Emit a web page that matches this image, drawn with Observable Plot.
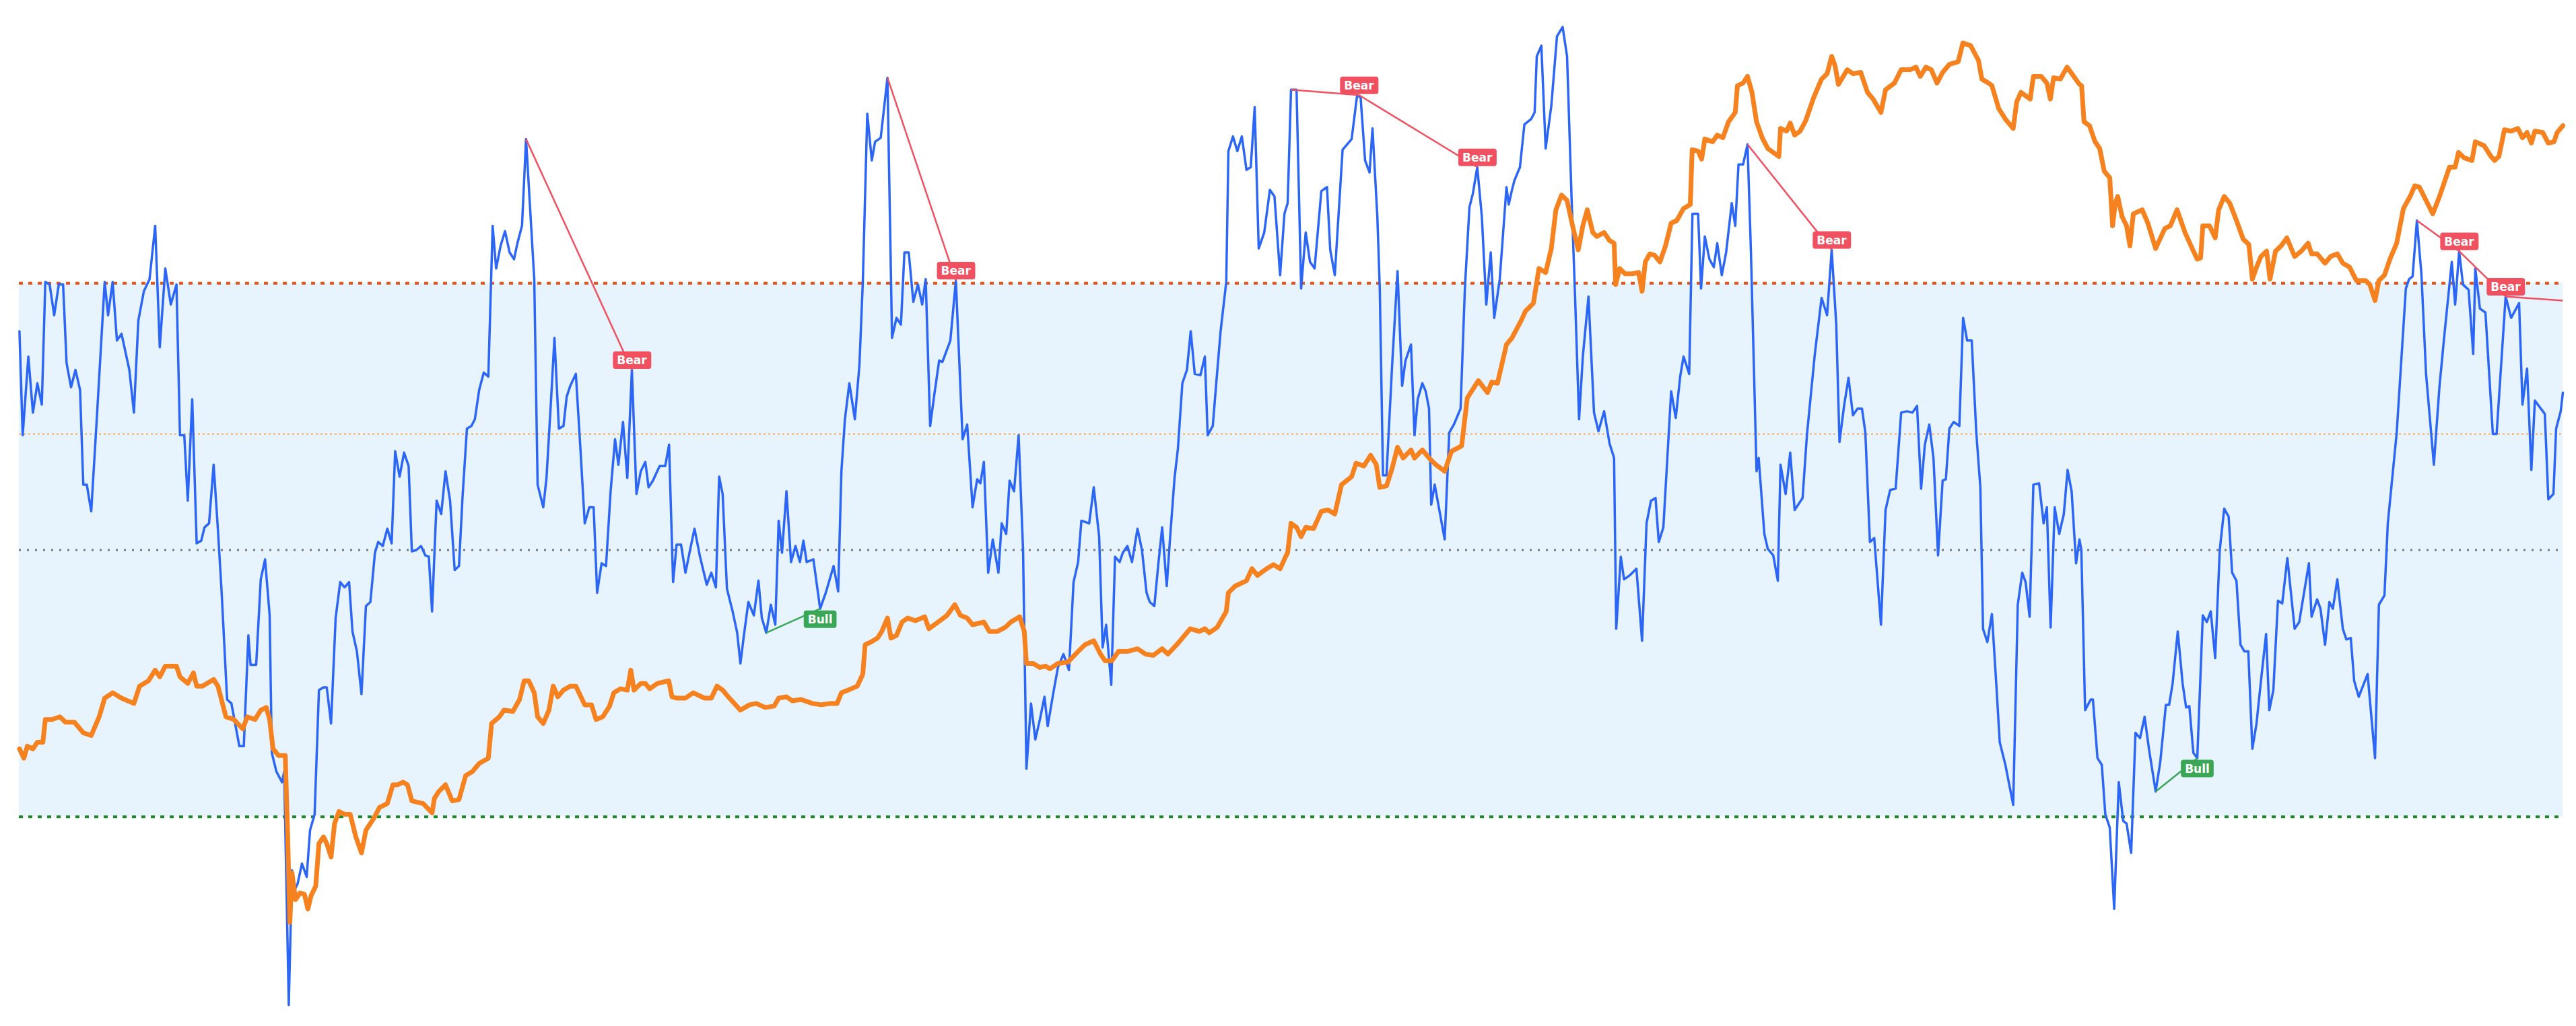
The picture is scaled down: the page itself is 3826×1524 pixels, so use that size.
<!DOCTYPE html>
<html><head><meta charset="utf-8">
<script src="https://cdn.jsdelivr.net/npm/d3@7"></script>
<script src="https://cdn.jsdelivr.net/npm/@observablehq/plot@0.6"></script>
<style>html,body{margin:0;padding:0;background:#fff;} #chart svg{display:block;}</style>
</head><body><div id="chart"></div>
<script>
// RSI oscillator: [bar, value]
const rsi = [[0.1,66.4],[1.3,58.6],[3.4,64.5],[5.1,60.3],[6.75,62.5],[8.4,60.9],[9.7,70.1],[11.3,69.9],[13,67.6],[14.7,69.9],[16.3,69.9],[17.6,64],[19.25,62.2],[20.9,63.5],[22.6,62],[23.8,54.9],[25.1,54.9],[26.75,52.9],[28.8,59.8],[31.75,70.1],[33,67.6],[34.7,70.1],[36.3,65.7],[38,66.2],[40.9,63.5],[42.6,60.3],[44.25,67.2],[46.3,69.4],[48.4,70.3],[50.5,74.3],[52.2,65.2],[54.25,71.1],[56.3,68.4],[58.4,69.9],[59.7,58.6],[61.3,58.6],[62.6,53.7],[64.25,61.3],[65.9,50.5],[67.6,50.7],[68.8,51.7],[70.5,52],[72.2,56.4],[73.8,51.5],[75.1,47.1],[77.2,38.8],[78.8,38.5],[81.75,35.3],[83.4,35.3],[85.1,43.6],[85.9,41.4],[88,41.4],[89.7,47.8],[91.3,49.3],[93,45.1],[93.8,34.8],[95.5,33.4],[97.6,32.6],[98.4,33.4],[100.1,15.9],[101.3,26],[102.2,24.5],[103.4,25],[105,26.5],[106.75,25.5],[108,29],[109.7,30.2],[111.3,39.5],[113,39.7],
[114.2,39.7],[115.8,37],[117.5,44.9],[119.2,47.6],[120.8,47.2],[122.5,47.6],[123.75,43.9],[125.4,42.4],[127.1,39.2],[128.75,45.8],[130.4,46.1],[132.1,49.8],[133.3,50.6],[135,50.3],[136.7,51.6],[138.3,50.5],[139.6,57.4],[141.25,55.5],[142.9,57.3],[144.6,56.3],[145.8,49.9],[147.5,50],[149.2,50.3],[150.8,49.6],[152.1,49.5],[153.3,45.4],[155,53.7],[156.7,52.7],[158.3,55.9],[160,53.7],[161.7,48.5],[163.3,48.8],[164.6,53.9],[166.25,59.1],[167.9,59.3],[169.2,59.8],[170.8,62],[172.5,63.3],[174.2,63],[175.8,74.3],[177.1,71.1],[178.75,72.8],[180.4,73.9],[182.1,72.3],[183.75,71.8],[185,73],[186.7,74.3],[188.2,80.8],[189.6,76],[191.25,70.3],[192.5,54.9],[194.6,53.2],[195.8,55.4],[197.5,61.3],[198.75,65.9],[200.4,59.1],[202.1,59.3],[203.3,61.5],[204.6,62.3],[206.7,63.2],[208.3,57.9],[210,52],[211.7,53.2],[213.3,53.2],[214.6,46.8],[216.25,49],[217.9,48.8],[219.6,54.4],[221.25,58.3],[222.5,56.4],[224.2,59.6],[225.8,55.4],[227.5,63.5],[229.2,54.2],[230.8,55.9],[232.5,56.6],
[233.7,54.7],[235.3,55.2],[237.8,56.3],[239.9,56.3],[241.3,57.9],[242.8,47.6],[244.1,50.4],[245.75,50.4],[247.4,48.3],[249.1,50],[250.75,51.6],[252.8,49.5],[255.3,47.4],[257,48.3],[258.7,47.2],[259.9,55.5],[261.2,54.2],[262.8,47.1],[264.9,45.4],[266.6,43.8],[267.8,41.5],[269.1,43.6],[270.75,46.1],[272.8,45.1],[274.5,47.7],[275.75,44.9],[277.4,43.8],[279.1,45.9],[280.75,44.4],[282,52.2],[283.25,49.8],[284.9,54.4],[286.6,49.1],[288.25,50.3],[289.9,49.1],[291.2,50.7],[292.4,49.1],[294.9,49.3],[297.4,45.6],[299.5,46.8],[302.4,48.8],[304.1,46.9],[305.3,55.9],[306.6,59.8],[308.25,62.5],[310.3,59.8],[312,63.9],[313.25,70.1],[314.9,82.7],[316.6,79.2],[317.8,80.6],[319.9,80.9],[322.4,85.4],[324.1,65.9],[325.75,67.4],[327.4,66.9],[328.7,72.3],[330.3,72.3],[332,68.6],[333.7,69.9],[335.3,68.4],[336.6,70.3],[338.25,59.3],[339.9,61.8],[341.6,64.2],[342.8,64.1],[345.75,65.7],[347.8,70.2],[350.3,58.3],
[352,59.4],[354,53.2],[355.7,55.3],[356.9,55],[358.2,56.6],[359.8,48.3],[361.5,50.8],[363.6,48.3],[364.8,52],[366.5,51.2],[367.75,55.2],[369.4,54.4],[371.1,58.6],[372.75,50],[374,33.6],[375.7,38.5],[377.3,35.8],[379,37.3],[380.7,39],[381.9,36.8],[384,39.3],[385.7,41.2],[387.75,42.2],[389.8,41],[391.5,47.6],[393.2,49.1],[394.4,52.2],[397.3,52],[399,54.7],[401,51],[402.3,42.7],[403.6,44.4],[405.5,39.9],[406.9,49.5],[408.6,49.1],[409.8,49.8],[411.5,50.3],[413.2,49.1],[415.25,51.6],[416.9,50],[418.6,46.8],[419.8,46.1],[421.5,45.8],[423,49],[424.4,51.7],[426.1,47.3],[427.3,50.8],[429,55.4],[430.25,57.6],[431.9,62.5],[433.6,63.5],[435,66.4],[436.5,63.2],[438.6,63.1],[440.25,64.5],[441.3,58.6],[443.2,59.3],[444.4,62.3],[446.1,66.4],[448.2,70.1],[449,79.9],[450.7,81],[452.3,79.9],[454,81],[455.7,78.5],[457.3,78.7],[458.75,83.2],[460.25,72.6],[462.3,73.8],[464.4,77],[466.1,76.5],[468.2,70.6],[469.8,75.2],[471,76],
[472.25,84.5],[474.3,84.5],[476,69.6],[477.7,73.8],[479.3,71.6],[481,71.1],[483.5,76.9],[485.6,77.2],[486.8,72.5],[488.5,70.6],[491.4,80],[494.75,80.8],[496.8,84.1],[498.1,83.9],[499.75,79.2],[501.4,78.3],[502.5,81.6],[504.3,75],[505.2,69.6],[506.4,55.6],[507.7,55.6],[509.75,63.7],[511.8,70.9],[513.5,62.3],[514.75,64.2],[516.8,65.4],[518.1,58.6],[519.3,61.3],[521,62.5],[522.25,61.9],[523.5,60.6],[524.3,53.4],[525.6,54.9],[529.3,50.8],[531,58.8],[532.7,59.4],[535.2,60.6],[536.8,69.6],[538.5,75.7],[539.75,76.7],[541.4,78.7],[543.1,75],[544.75,68.4],[546.4,72.3],[547.7,67.4],[549.75,70.3],[552.25,77.2],[553.1,75.9],[554.3,77],[555.2,77.7],[557.25,78.7],[558.9,81.9],[561.4,82.3],[562.7,82.8],[563.5,87],[565.2,87.8],[566.8,80.1],[568.9,83.3],[571,88.5],[573.1,89.2],[574.75,87],[576.4,76.5],[577.7,69.1],[579.2,59.8],[580.6,64.5],[582.7,69],[584.75,60.3],[586.4,58.9],[588.5,60.4],[590.5,58],
[592.2,56.9],[593,44.1],[594.7,49.5],[595.9,47.8],[598,48.1],[600.5,48.6],[602.6,43.2],[604.25,52],[605.9,53.7],[607.6,53.9],[608.8,50.6],[610.5,51.7],[613.4,61.9],[615.1,59.9],[616.75,63],[618,64.5],[620.1,63.2],[621.3,75.2],[623.4,75.2],[624.5,69.6],[625.9,73.5],[627.6,71.8],[629.25,71.2],[630.5,73],[632.2,70.6],[633.8,72.3],[635.9,76],[637.2,74.3],[638.4,78.9],[640.1,78.9],[641.75,80.4],[643,72.5],[645.1,55.9],[645.9,56.9],[648,51.2],[649.25,50.1],[651.3,49.6],[653,47.7],[654,56.4],[655.9,54.2],[657.6,57.3],[659.25,53],[662.2,53.9],[663.8,58.6],[666.75,64.7],[669.25,68.9],[671.3,67.6],[673,72.5],[674.7,66.9],[675.9,58.1],[677.6,60.8],[679.25,62.9],[680.9,60.1],[682.6,60.6],[684.25,60.6],[685.5,58.8],[687.2,50.6],[688.8,50.9],[691.3,44.4],[693,53],[694.7,54.5],[696.75,54.6],[698.8,60.3],[700.9,60.4],[703,60.3],[704.7,60.8],[706.2,54.6],[707.6,57.9],[709.25,59.4],[710.8,56.9],
[712.5,49.6],[714.2,55.2],[715.4,55.3],[716.7,59.1],[718.3,59.6],[720.4,59.3],[721.8,67.4],[723.3,65.7],[725,65.7],[726.7,58.8],[728.2,54.7],[729.2,44.1],[730.8,43.1],[732.5,45.2],[734.2,39.7],[735.4,35.6],[737.5,33.9],[740.4,30.9],[742.1,45.9],[743.75,48.3],[745,47.6],[746.5,45],[747.9,54.9],[750,55],[751.7,52],[752.9,53.2],[754.3,44.2],[755.8,53.2],[757.5,51.2],[759.2,52.7],[760.6,56],[762.1,54.4],[763.75,49],[765,50.8],[765.7,50],[767.1,38],[769.2,38.8],[770,38.8],[771.7,34.4],[773.3,33.9],[774.6,30.2],[776.25,29.2],[777.9,23.1],[779.6,32.6],[781.25,29.7],[782.5,29.5],[784.2,27.3],[785.8,36.3],[787.5,35.9],[789.2,37.5],[790.8,35.1],[793.3,31.9],[795,34.1],[797.1,38.4],[798.3,38.4],[799.6,40],[801.5,43.9],[803.3,40],[804.6,38.2],[805.8,38.3],[807.3,34.8],[808.75,34.4],[810.8,45.1],[812.3,44.6],[813.75,45.4],[815.4,41.9],[817.1,50],[818.75,53.1],[820.4,52.5],[821.7,48.3],[823.3,47.7],[824.8,42.9],[826.25,42.4],[827.7,42.4],[829.2,35.1],
[830.75,37],[832.4,40.2],[834.3,43.7],[835.5,38],[837,39.5],[838.7,46.2],[840.3,46],[842.2,49.4],[844.9,44.1],[846.6,44.6],[850.2,49],[851.2,45],[853.25,46.3],[854.5,45.6],[856.2,42.9],[857.8,46.1],[859.1,45.6],[860.75,47.8],[862.8,44.1],[864.1,43.3],[865.75,43.4],[867,40.2],[868.7,39],[872,40.7],[874.75,34.4],[876.2,45.9],[878.25,46.6],[879.5,52],[882.8,58.8],[886.2,69.6],[887.4,70.3],[888.7,70.5],[890.3,74.7],[892,70.6],[893.7,63.2],[896.6,56.4],[898.7,62.3],[900.3,65.7],[903.25,71.6],[904.5,68.4],[906,72.4],[907.4,69.9],[909.5,69.5],[911.2,64.7],[912,71.1],[913.7,68.1],[915.75,67.8],[918.5,58.7],[919.9,58.7],[923.25,69],[925.3,67.4],[928.25,68.5],[929.5,60.9],[931.2,63.6],[932.8,56],[934.1,61.2],[937.8,60.2],[939.1,53.8],[941,54.2],[942,59.1],[943.7,60.4],[944.5,61.8]];

// Price overlay, expressed on the oscillator's vertical scale: [bar, level]
const price = [[0.1,35.1],[1.75,34.4],[3,35.3],[5.1,35.1],[6.75,35.6],[8.8,35.6],[9.7,37.3],[12.2,37.3],[15.1,37.5],[17.2,37.1],[20.5,37.1],[23.8,36.3],[26.75,36.1],[29.7,37.5],[31.75,38.9],[34.7,39.3],[38,38.9],[42.6,38.5],[44.7,39.8],[48,40.2],[50.5,41],[52.2,40.5],[54.25,41.3],[58.4,41.3],[59.7,40.5],[62.6,40],[64.7,40.8],[65.9,39.8],[68,39.8],[72.2,40.3],[73.8,39.8],[76.75,37.5],[79.7,37.3],[83,36.6],[84.7,37.5],[87.6,37.3],[89.7,38],[91.75,38.2],[93,37.3],[94.25,35.1],[96.3,34.6],[98.8,34.6],[99.7,28.5],[100.5,22.1],[101.3,25.8],[102.6,23.8],[104.25,24.3],[105.9,24.2],[107.2,23.1],[108.4,24.1],[110.1,24.8],[111.3,28],[113,28.5],
[114.2,28],[115.8,27],[117.1,29.5],[118.75,30.4],[120.8,30.2],[122.9,30.2],[125,28.5],[127.1,27.3],[128.75,29],[131.7,29.9],[133.75,30.7],[136.7,31],[138.75,32.4],[140.4,32.4],[142.5,32.6],[144.2,32.4],[145.8,31.2],[150,31],[153.3,30.3],[154.2,31.4],[155.8,31.9],[158.3,32.4],[160.8,31.2],[163.3,31.3],[165.8,33.1],[168.3,33.4],[170.8,34],[174.2,34.4],[175.4,37],[178.3,37.5],[180,38],[183.3,37.9],[185.8,38.8],[187.5,40.2],[189.2,40.2],[191.25,39.3],[192.5,37.5],[194.6,37],[196.7,38],[198.3,39.8],[200,39],[202.1,39.5],[204.6,39.8],[206.7,39.8],[210,38.4],[212.5,38.4],[214.2,37.3],[216.7,37.5],[219.2,38.3],[220.8,39.3],[223.3,39.6],[225.8,39.5],[227.1,41],[228.3,39.5],[230.8,40],[232.5,40],
[234.1,39.6],[237,40],[241.2,40.2],[242.4,39],[244.1,38.9],[247.4,38.9],[250.3,39.3],[254.5,38.9],[257,38.9],[259.1,39.8],[261.2,39.5],[263.7,38.9],[267.8,38],[271.2,38.4],[273.7,38.5],[277,38.2],[280.3,38.3],[282,38.9],[284.9,39],[287,38.7],[290.3,38.8],[294.5,38.5],[297.8,38.4],[301.2,38.5],[303.7,38.5],[305.3,39.3],[307.8,39.5],[311.2,39.8],[313.25,40.7],[314.1,42.9],[316.2,43.1],[318.7,43.4],[320.3,43.9],[322.4,44.9],[323.7,43.4],[325.75,43.6],[327.8,44.6],[329.9,44.9],[332.8,44.7],[336.2,45],[337.8,44.1],[341.2,44.6],[344.5,45.1],[347.4,45.9],[349.5,45.1],[352,44.9],
[354,44.4],[358.2,44.6],[360.25,43.9],[363.2,43.9],[366.1,44.2],[368.2,44.6],[371.5,45],[373.2,43.9],[374,41.5],[376.5,41.5],[379,41.2],[381.1,41.3],[382.75,41.1],[385.7,41.5],[389.4,41.6],[393.2,42.4],[395.7,42.9],[399,43.2],[401.5,42.2],[403.2,41.7],[405.7,41.7],[408.2,42.4],[411.5,42.4],[415.25,42.6],[418.2,42.2],[421.1,42.1],[424.4,42.6],[426.5,42.2],[429.8,42.9],[434.8,44.1],[438.2,43.9],[440.25,44.1],[441.9,43.8],[444.8,44.2],[448.2,45.4],[449,46.8],[451.5,47.3],[455.7,47.7],[457.75,48.6],[459.8,48.1],[463.2,48.6],[465.7,48.9],[468.2,48.6],[470.25,49.5],[471,49.8],
[472.25,52],[474.3,51.7],[476,51],[477.7,51.7],[480.6,51.6],[483.5,52.9],[486,53],[488.5,52.7],[491,54.9],[494.75,55.5],[496.4,56.5],[499.3,56.3],[501.8,57.1],[503.9,56.4],[505.2,54.7],[507.7,54.8],[509.75,56.1],[511.8,57.7],[513.9,56.9],[516.8,57.5],[518.1,56.9],[521,57.5],[523.5,56.9],[526,56.4],[529.3,55.9],[531.8,57.4],[535.6,57.8],[537.7,61.4],[541.8,62.7],[545.2,61.8],[546.8,62.6],[548.9,62.5],[552.25,65.4],[554.3,65.9],[557.7,67.2],[559.3,67.9],[562.25,68.5],[564.3,71.1],[566.8,70.8],[568.9,72.6],[570.6,75.5],[572.7,76.6],[574.75,76.2],[576.8,74.3],[578.9,72.5],[580.6,74.3],[582.25,75.5],[584.3,73.8],[585.8,73.5],[588.5,73.8],[590.5,73.2],
[592.2,73],[592.8,69.9],[594.25,71.1],[596.3,70.7],[598.8,70.7],[601.3,70.8],[602.6,69.4],[603.8,71.6],[605.5,72.2],[607.2,72.1],[609.25,71.6],[611.3,72.8],[613.4,74.5],[615.5,74.7],[618,75.6],[620.5,75.9],[621.2,80],[623.4,79.9],[624.7,79.3],[625.9,80.8],[628.8,80.6],[630.5,81.1],[632.6,80.9],[634.7,82.1],[637.2,82.8],[638,84.8],[640.1,85],[641.75,85.5],[643.4,84.3],[645.1,82.1],[647.2,80.9],[649.25,80.1],[651.3,79.8],[653.4,79.5],[654,81.6],[656.3,81.4],[657.6,82],[659.25,81.1],[661.3,81.4],[663.4,82.2],[666.3,83.9],[669.25,85.3],[671.3,85.7],[673,87],[674.25,86.3],[675.5,84.9],[678.8,86],[680.9,85.7],[683.8,85.8],[686.3,84.3],[688.4,83.8],[691.3,82.8],[693,84.5],[696.3,85],[698.8,86],[702.2,86],[704.25,86.2],[705.9,85.5],[708,86.2],[710,86],
[712.1,85],[714.2,85.8],[716.7,86.4],[720,86.6],[721.7,88],[724.6,87.8],[727.5,86.7],[728.75,85.3],[731.25,85],[732.5,84.8],[735,83.1],[737.5,82.3],[740.4,81.6],[741.7,83.6],[743.3,84.3],[746.7,83.8],[747.9,85.5],[750.8,85.5],[752.9,85],[754.2,83.8],[755.4,85.4],[757.9,85.3],[760.4,86.2],[762.9,85.5],[765,84.9],[765.8,84.8],[766.7,82.1],[768.75,81.8],[770.8,80.6],[772.5,80.1],[774.2,78.4],[776.25,77.9],[777.3,74.3],[778.3,76],[779.2,76.5],[780.8,75],[782.5,74.3],[783.75,72.8],[785,75.2],[788.3,75.5],[790.4,74.5],[793.3,72.6],[796.7,74.1],[798.75,74.3],[801.25,75.5],[804.2,73.8],[807.1,72.5],[808.75,71.8],[810,71.9],[810.8,74.3],[813.3,74.3],[815.4,73.4],[816.7,75.5],[818.75,76.5],[820.8,76],[823.3,74.7],[825.8,73.3],[827.9,72.9],[829.2,70.3],
[830.75,71.2],[832.4,72],[834.5,72.4],[835.75,70.3],[837.8,72.4],[839.9,72.8],[842,73.4],[844.9,72],[847.4,72.4],[849.9,73],[851.2,72.2],[853.25,72.2],[856.2,71.5],[858.25,72],[860.75,72.2],[862.8,71.5],[865.3,71.2],[867.8,70.2],[871.2,70.2],[872.8,69.9],[874.75,68.7],[876.2,70.2],[878.25,70.6],[880.3,71.8],[882.8,73],[885.3,75.6],[887.8,76.5],[889.5,77.3],[891.2,77.2],[893.7,76.2],[896.2,75.2],[898.7,76.5],[902.4,78.7],[904.5,78.7],[905.75,79.8],[907.8,79.4],[910.75,79.2],[912,80.6],[915.3,80.3],[917.8,79.5],[919.1,79.2],[920.75,79.5],[922.8,81.5],[925.3,81.4],[927.8,81.6],[929.5,80.9],[931.2,81.3],[932.8,80.5],[934.1,81.4],[937,81.3],[939.1,80.5],[941.2,80.6],[942.4,81.3],[944.5,81.8]];

// Reference levels
const overbought = 70;
const oversold = 30;
const midline = 50;
const rsiAverage = 58.7;

// Divergences: [bar1, rsi1, bar2, rsi2]
const bearDivergences = [[188.2,80.8,227.5,63.5],[322.4,85.4,347.8,70.2],[472.25,84.5,497.5,84.1],[497.5,84.1,541.4,78.7],[641.75,80.4,673,72.5],[890.3,74.7,906,72.4],[906,72.4,923.25,69]];
const bullDivergences = [[277.4,43.8,297.4,45.6],[793.3,31.9,808.75,34.4]];
const openDivergences = [[923.25,69,944.5,68.7]];

const xDomain = [0, 944.5];
const yDomain = [14.3, 91.2];

const bearLabels = bearDivergences.map(d => ({bar: d[2], value: d[3], label: "Bear"}));
const bullLabels = bullDivergences.map(d => ({bar: d[2], value: d[3], label: "Bull"}));
const BEAR = "#f0505f", BULL = "#3aa757";

const linkOpts = {x1: d => d[0], y1: d => d[1], x2: d => d[2], y2: d => d[3]};
const labelFont = {fill: "white", fontSize: 17, fontWeight: "bold", fontFamily: "DejaVu Sans, sans-serif"};

const chart = Plot.plot({
  width: 3826, height: 1524,
  marginLeft: 28, marginRight: 20, marginTop: 0, marginBottom: 0,
  x: {domain: xDomain, axis: null},
  y: {domain: yDomain, axis: null},
  marks: [
    Plot.rect([{lo: oversold, hi: overbought}], {y1: "lo", y2: "hi", fill: "#e7f3fd"}),
    Plot.ruleY([overbought], {stroke: "#e4531b", strokeWidth: 4, strokeDasharray: "6,8"}),
    Plot.ruleY([rsiAverage], {stroke: "#f5a04a", strokeWidth: 1.6, strokeDasharray: "3,4"}),
    Plot.ruleY([midline], {stroke: "#7a7a7a", strokeWidth: 3, strokeDasharray: "3,9"}),
    Plot.ruleY([oversold], {stroke: "#1c8a2c", strokeWidth: 4, strokeDasharray: "6,8"}),
    Plot.line(rsi, {x: d => d[0], y: d => d[1], stroke: "#2c66f6", strokeWidth: 3.5, strokeLinejoin: "round"}),
    Plot.line(price, {x: d => d[0], y: d => d[1], stroke: "#f5821f", strokeWidth: 7, strokeLinejoin: "round"}),
    Plot.link(bearDivergences, {...linkOpts, stroke: BEAR, strokeWidth: 2.5}),
    Plot.link(openDivergences, {...linkOpts, stroke: BEAR, strokeWidth: 2.5}),
    Plot.link(bullDivergences, {...linkOpts, stroke: BULL, strokeWidth: 2.5}),
    Plot.text(bearLabels, {x: "bar", y: "value", text: "label", dy: -14, ...labelFont}),
    Plot.text(bullLabels, {x: "bar", y: "value", text: "label", dy: 16, ...labelFont})
  ]
});
document.getElementById("chart").append(chart);

// Rounded badges behind the label texts
chart.querySelectorAll('g[aria-label="text"] text').forEach(t => {
  const b = t.getBBox();
  const r = document.createElementNS("http://www.w3.org/2000/svg", "rect");
  const padX = 6, padY = 3;
  r.setAttribute("x", b.x - padX);
  r.setAttribute("y", b.y - padY);
  r.setAttribute("width", b.width + 2 * padX);
  r.setAttribute("height", b.height + 2 * padY);
  r.setAttribute("rx", 4);
  r.setAttribute("fill", t.textContent.trim() === "Bull" ? BULL : BEAR);
  if (t.getAttribute("transform")) r.setAttribute("transform", t.getAttribute("transform"));
  t.parentNode.insertBefore(r, t);
});
</script>
</body></html>
